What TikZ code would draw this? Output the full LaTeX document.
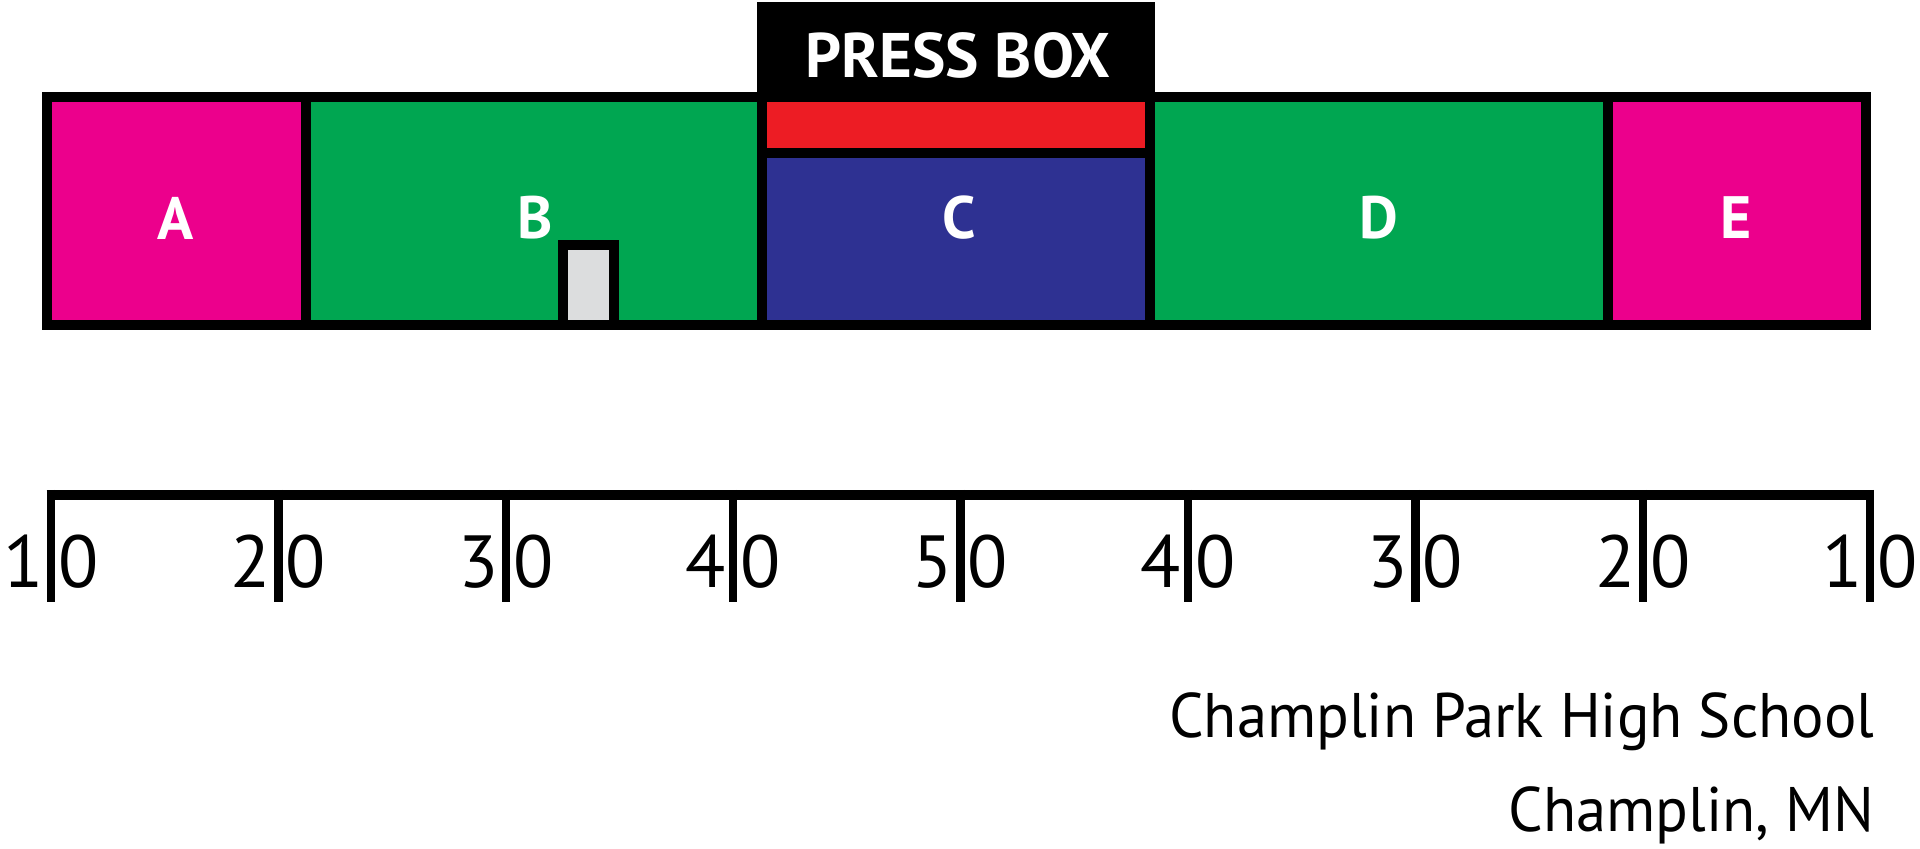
\documentclass[tikz,border=0pt]{standalone}
\usepackage{fontspec}
\setmainfont{PT Sans}
\newfontfamily\schoolfont[FakeStretch=0.963]{PT Sans}
\usetikzlibrary{positioning}
\definecolor{zonepink}{HTML}{EC008C}
\definecolor{zonegreen}{HTML}{00A651}
\definecolor{zonered}{HTML}{ED1C24}
\definecolor{zoneblue}{HTML}{2E3192}
\definecolor{zonegray}{HTML}{DCDDDE}

\begin{document}
\begin{tikzpicture}[
        x=0.01cm, y=-0.01cm,
        zone/.style={rectangle, draw=black, line width=1mm, inner sep=0pt, minimum height=2.28cm},
        zonetext/.style={text=white, inner sep=0pt, font=\bfseries\fontsize{17}{17}\selectfont},
        tickline/.style={line width=0.85mm},
        digit/.style={anchor=base, inner sep=0pt, font=\fontsize{21}{21}\selectfont},
        school/.style={anchor=base east, inner sep=0pt, font=\schoolfont\fontsize{17.9}{17.9}\selectfont}
    ]
        \useasboundingbox (0,0) rectangle (1920,849);

        % Press box
        \node[zone, fill=black, minimum width=3.875cm, minimum height=0.895cm] (press) at (956.25, 52.25) {};
        \node[zonetext, font=\bfseries\fontsize{17.9}{17.9}\selectfont] (labPress) at (958, 55) {PRESS BOX};

        % Seating sections
        \node[zone, fill=zonepink, minimum width=2.585cm] (A) at (176.75, 211) {};
        \node[zone, fill=zonegreen, minimum width=4.565cm] (B) at (534.25, 211) {};
        \node[zone, fill=zonered, minimum width=3.875cm, minimum height=0.56cm] (Cred) at (956.25, 125) {};
        \node[zone, fill=zoneblue, minimum width=3.875cm, minimum height=1.72cm] (C) at (956.25, 239) {};
        \node[zone, fill=zonegreen, minimum width=4.576cm] (D) at (1378.8, 211) {};
        \node[zone, fill=zonepink, minimum width=2.584cm] (E) at (1736.8, 211) {};

        % Small box in B
        \node[zone, fill=zonegray, minimum width=0.505cm, minimum height=0.80cm] (stairs) at (588.5, 285) {};

        % Section letters
        \node[zonetext] (labA) at (176, 218) {A};
        \node[zonetext] (labB) at (535, 218) {B};
        \node[zonetext] (labC) at (959, 218) {C};
        \node[zonetext] (labD) at (1379, 218) {D};
        \node[zonetext] (labE) at (1736, 218) {E};

        % Yard line ruler
        \coordinate (rulerL) at (46.5, 495);
        \coordinate (rulerR) at (1874.3, 495);
        \draw[line width=1mm] (rulerL) -- (rulerR);

        \foreach \i/\d in {0/1, 1/2, 2/3, 3/4, 4/5, 5/4, 6/3, 7/2, 8/1} {
            \coordinate (tick\i) at ({51+227.4*\i}, 490);
            \draw[tickline] (tick\i) -- ++(0, 112);
            \node[digit] (dl\i) at ({51+227.4*\i-27.5}, 588) {\d};
            \node[digit] (dr\i) at ({51+227.4*\i+27.5}, 588) {0};
        }

        % School name
        \node[school] (name) at (1875, 738) {Champlin Park High School};
        \node[school] (city) at (1875, 832) {Champlin, MN};

    \end{tikzpicture}
\end{document}
